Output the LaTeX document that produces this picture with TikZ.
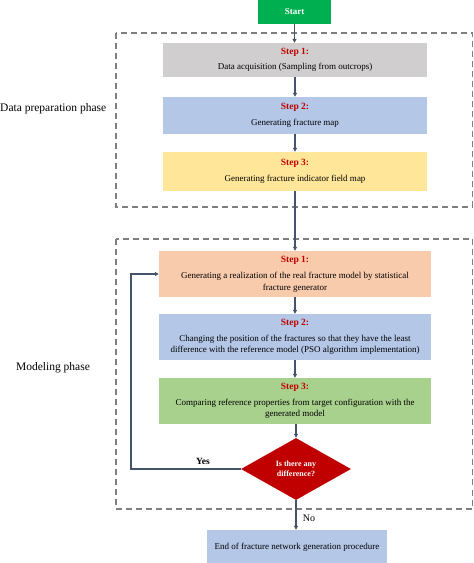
\documentclass[tikz,border=0pt]{standalone}
\usepackage{fontspec}
\setmainfont{Liberation Serif}
\usetikzlibrary{shapes.geometric,arrows.meta,calc}
\definecolor{stepred}{HTML}{C00000}
\definecolor{arrowc}{HTML}{44546A}
\definecolor{dashc}{HTML}{7F7F7F}
\definecolor{cgray}{HTML}{D0CECE}
\definecolor{cblue}{HTML}{B4C7E7}
\definecolor{cyellow}{HTML}{FFE699}
\definecolor{corange}{HTML}{F8CBAD}
\definecolor{cgreen}{HTML}{A9D18E}
\definecolor{cstart}{HTML}{00B050}
\definecolor{cdiam}{HTML}{C00000}
\newcommand\stp[1]{{\color{stepred}\bfseries\fontsize{9.5bp}{11bp}\selectfont #1}}
\begin{document}
\begin{tikzpicture}[x=1bp,y=-1bp,
  stepbox/.style={rectangle, inner sep=0pt, align=center, text=black,
    font=\fontsize{9bp}{11.5bp}\selectfont},
  flow/.style={draw=arrowc, line width=1.2bp, -{Triangle[length=4bp,width=4bp]}},
  phasebox/.style={draw=dashc, line width=1.3bp, dash pattern=on 6bp off 4bp},
  phaselabel/.style={font=\fontsize{11.5bp}{13bp}\selectfont, inner sep=0pt}]
\useasboundingbox (0,0) rectangle (474,563);

% phase boxes
\draw[phasebox] (116,33) rectangle (472.5,207);
\draw[phasebox] (116,239) rectangle (472.5,509);
\node[phaselabel, anchor=west] (lab1) at (0,109) {Data preparation phase};
\node[phaselabel] (lab2) at (53,368) {Modeling phase};

% nodes
\node[rectangle, fill=cstart, minimum width=73bp, minimum height=24bp, inner sep=0pt,
  text=white, font=\bfseries\fontsize{9bp}{11bp}\selectfont] (start) at (294.5,12) {Start};
\node[stepbox, fill=cgray, minimum width=264bp, minimum height=34bp] (d1) at (295,60)
  {\stp{Step 1:}\\[4bp] Data acquisition (Sampling from outcrops)};
\node[stepbox, fill=cblue, minimum width=264bp, minimum height=37bp] (d2) at (295,115.5)
  {\stp{Step 2:}\\[5bp] Generating fracture map};
\node[stepbox, fill=cyellow, minimum width=264bp, minimum height=39bp] (d3) at (295,171.5)
  {\stp{Step 3:}\\[5bp] Generating fracture indicator field map};

\node[stepbox, fill=corange, minimum width=272bp, minimum height=46bp] (m1) at (295,274)
  {\stp{Step 1:}\\[5bp] Generating a realization of the real fracture model by statistical\\ fracture generator};
\node[stepbox, fill=cblue, minimum width=272bp, minimum height=46bp] (m2) at (295,337)
  {\stp{Step 2:}\\[4bp] Changing the position of the fractures so that they have the least\\ difference with the reference model (PSO algorithm implementation)};
\node[stepbox, fill=cgreen, minimum width=272bp, minimum height=46bp] (m3) at (295,401)
  {\stp{Step 3:}\\[4bp] Comparing reference properties from target configuration with the\\ generated model};

\node[diamond, fill=cdiam, minimum width=110bp, minimum height=62bp, inner sep=0pt,
  align=center, text=white, font=\bfseries\fontsize{8bp}{10bp}\selectfont] (dec) at (296,469)
  {Is there any\\ difference?};

\node[stepbox, fill=cblue, minimum width=180bp, minimum height=34bp] (end) at (297,547)
  {End of fracture network generation procedure};

\coordinate (loop) at (131,469);

% connectors
\draw[flow] (start.south) -- (start.south |- d1.north);
\draw[flow] (d1.south) -- (d1.south |- d2.north);
\draw[flow] (d2.south) -- (d2.south |- d3.north);
\draw[flow] (d3.south) -- (d3.south |- m1.north);
\draw[flow] (m1.south) -- (m1.south |- m2.north);
\draw[flow] (m2.south) -- (m2.south |- m3.north);
\draw[flow] (m3.south -| dec.north) -- (dec.north);
\draw[flow] (dec.south) -- (dec.south |- end.north)
  node[pos=0.62, right=3bp, font=\fontsize{10bp}{11bp}\selectfont, text=black] (no) {No};
\draw[flow] (dec.west) -- (loop) |- (m1.west);
\node[font=\bfseries\fontsize{9.5bp}{11bp}\selectfont] (yes) at (203,461) {Yes};
\end{tikzpicture}
\end{document}
